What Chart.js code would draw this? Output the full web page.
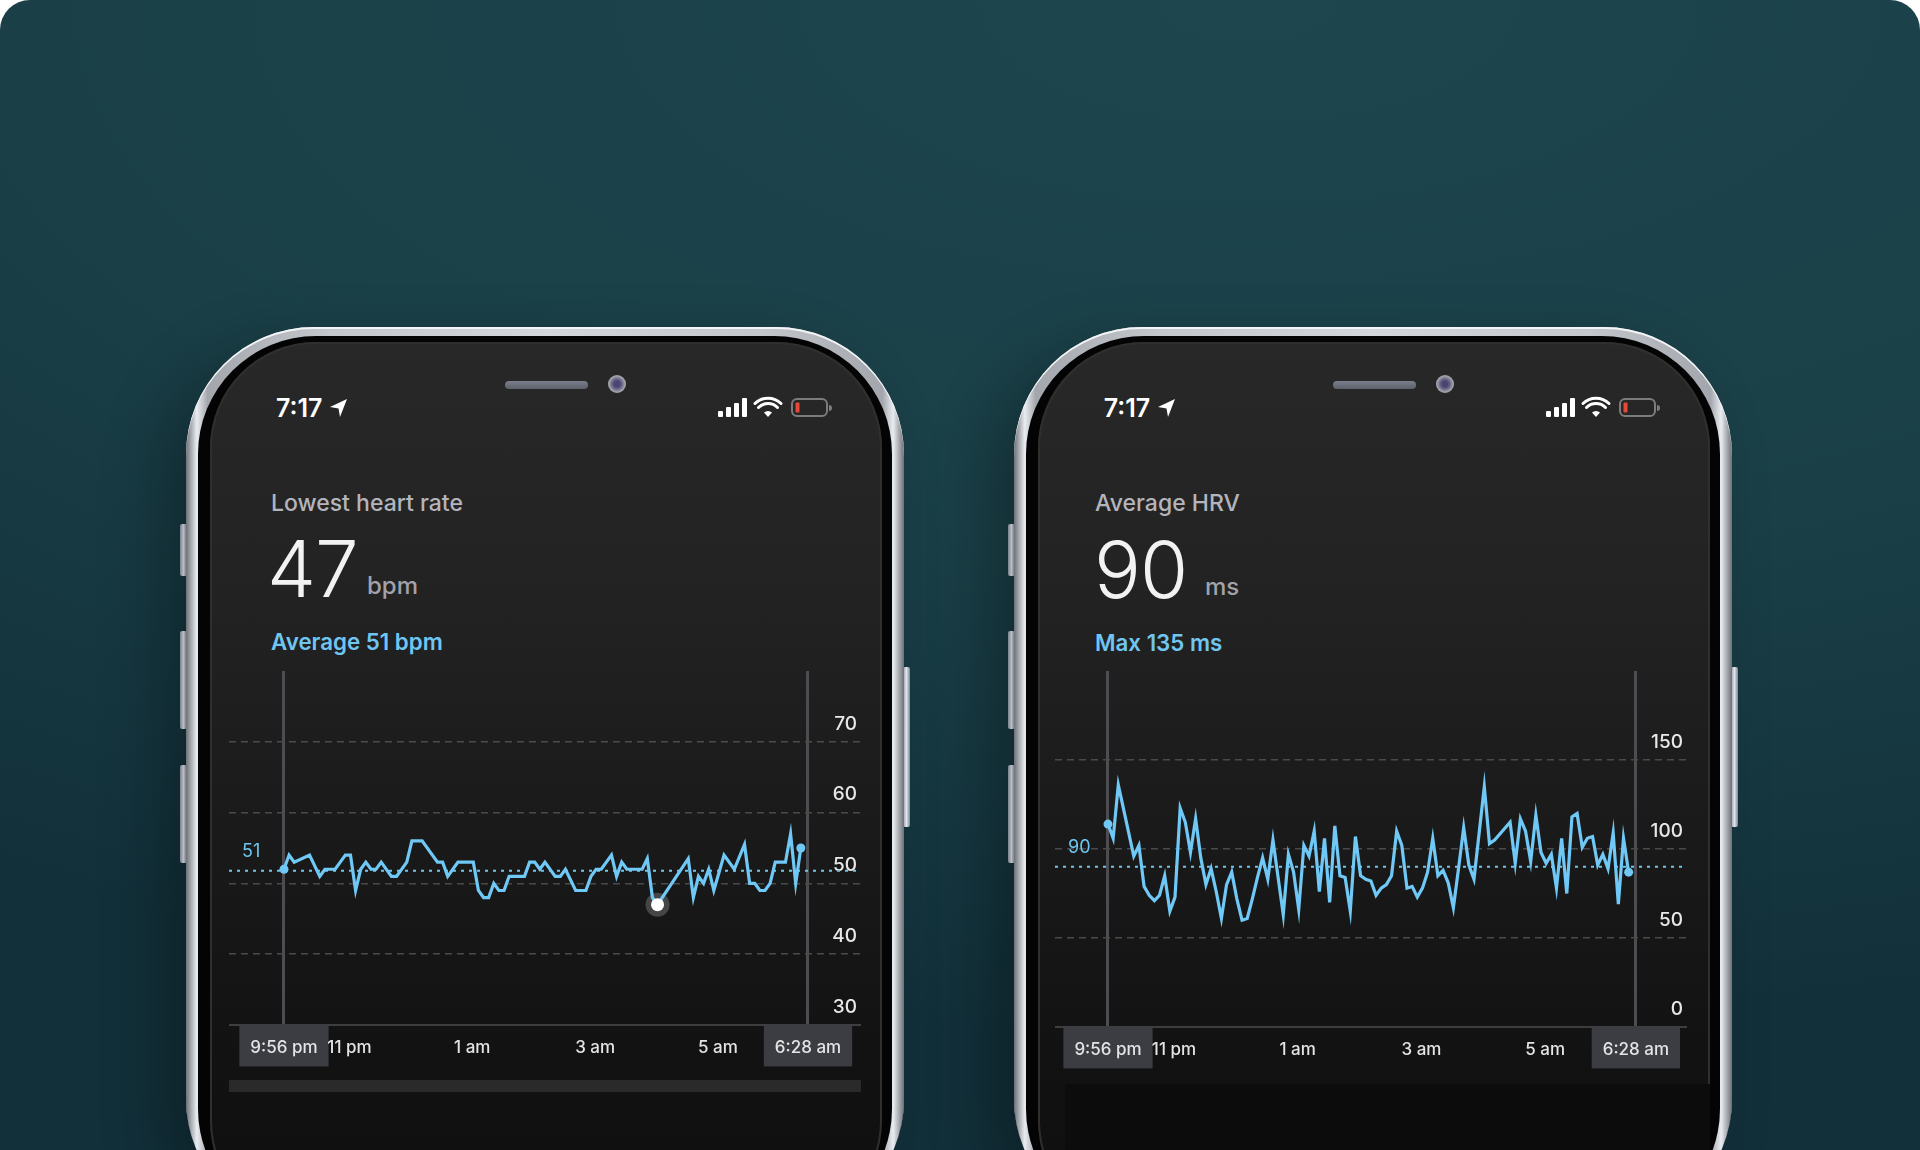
<!DOCTYPE html>
<html>
<head>
<meta charset="utf-8">
<script src="https://cdn.jsdelivr.net/npm/chart.js@4.4.1/dist/chart.umd.min.js"></script>
<style>
  body { margin: 0; background: #ffffff; font-family: Inter, "Noto Sans", sans-serif; }
  #bg {
    position: relative; width: 1920px; height: 1150px; overflow: hidden;
    border-radius: 30px 30px 0 0;
    background: radial-gradient(ellipse 120% 90% at 65% 0%, #1d464e 0%, #1a3f47 55%, #12303a 100%);
  }
  .phone {
    position: absolute; top: 327px; width: 718px; height: 900px; border-radius: 128px;
    background: linear-gradient(90deg, #6d7177 0%, #e9ecf0 1.5%, #a3a7ad 3%, #c4c8cd 20%, #d3d6da 50%, #c4c8cd 80%, #a3a7ad 97%, #e9ecf0 98.5%, #6d7177 100%);
    box-shadow: -25px 20px 60px rgba(0,0,0,0.28), inset 0 2px 0 #f2f4f6;
  }
  .bezel { position: absolute; left: 12px; right: 12px; top: 9px; bottom: 0; border-radius: 118px; background: #040404; }
  .screen {
    position: absolute; left: 24px; right: 22px; top: 15px; bottom: 0; border-radius: 106px;
    background: linear-gradient(180deg, #282828 0%, #222222 30%, #1a1a1a 55%, #121212 80%, #0f0f0f 100%);
    box-shadow: inset 0 0 0 2px #2f2f2f;
  }
  .btn { position: absolute; width: 7px; border-radius: 2px; background: linear-gradient(90deg, #9aa3b5, #eef1f6 50%, #7f8aa0); }
  .txt { position: absolute; white-space: nowrap; line-height: 1; }
  .speaker { position: absolute; width: 83px; height: 8px; border-radius: 4px; background: linear-gradient(180deg, #7a7f8b, #5b606b); }
  .cam { position: absolute; width: 18px; height: 18px; border-radius: 50%;
    background: radial-gradient(circle, #4a4470 0 22%, #6a6688 40%, #9c9ca6 60%, #c8c9d0 100%); }
  canvas { position: absolute; }
</style>
</head>
<body>
<div id="bg">
  <!-- phone 1 -->
  <div class="btn" style="left:180px;top:524px;height:52px"></div>
  <div class="btn" style="left:180px;top:631px;height:98px"></div>
  <div class="btn" style="left:180px;top:765px;height:98px"></div>
  <div class="btn" style="left:903px;top:667px;height:160px"></div>
  <div class="phone" style="left:186px"><div class="bezel"></div><div class="screen"></div></div>

  <!-- phone 2 -->
  <div class="btn" style="left:1008px;top:524px;height:52px"></div>
  <div class="btn" style="left:1008px;top:631px;height:98px"></div>
  <div class="btn" style="left:1008px;top:765px;height:98px"></div>
  <div class="btn" style="left:1731px;top:667px;height:160px"></div>
  <div class="phone" style="left:1014px"><div class="bezel"></div><div class="screen"></div></div>

  <!-- status bars -->
  <div id="status1"></div>
  <div id="status2"></div>

  <!-- screen 1 text -->
  <div class="txt" style="left:271px;top:492px;font-size:23px;font-weight:500;color:#b4b4bc">Lowest heart rate</div>
  <div class="txt" style="left:267px;top:530px;font-size:78px;font-weight:300;color:#f2f2f2;letter-spacing:-1px">47</div>
  <div class="txt" style="left:367px;top:574px;font-size:24px;font-weight:500;color:#a2a2ac">bpm</div>
  <div class="txt" style="left:271px;top:631px;font-size:22.3px;font-weight:600;color:#70c6f2">Average 51 bpm</div>
  <div style="position:absolute;left:229px;top:1080px;width:632px;height:12px;background:#2a2a2a"></div>

  <!-- screen 2 text -->
  <div class="txt" style="left:1095px;top:492px;font-size:23px;font-weight:500;color:#b4b4bc">Average HRV</div>
  <div class="txt" style="left:1094px;top:531px;font-size:78px;font-weight:300;color:#f2f2f2;letter-spacing:-1px">90</div>
  <div class="txt" style="left:1205px;top:575px;font-size:24px;font-weight:500;color:#a2a2ac">ms</div>
  <div class="txt" style="left:1095px;top:632px;font-size:22.3px;font-weight:600;color:#70c6f2">Max 135 ms</div>
  <div style="position:absolute;left:1065px;top:1084px;width:645px;height:70px;background:#0c0c0c"></div>

  <canvas id="hrChart" width="632" height="404" style="left:229px;top:671px"></canvas>
  <canvas id="hrvChart" width="632" height="404" style="left:1055px;top:671px"></canvas>
</div>

<script>
// shared time axis: minutes after 9:56 pm
const xTickMinutes = [0, 64, 184, 304, 424, 512];
const xTickLabels = ['9:56 pm', '11 pm', '1 am', '3 am', '5 am', '6:28 am'];

// lowest heart rate chart
const hrMinutes = [0, 5, 10, 25, 35, 40, 50, 55, 60, 65, 70, 75, 80, 85, 90, 95, 105, 110, 120, 125, 135, 150, 155, 160,
  170, 185, 190, 195, 200, 205, 210, 215, 220, 235, 240, 245, 250, 255, 265, 270, 275, 285, 295, 300, 305, 310, 315,
  320, 325, 330, 335, 350, 355, 360, 365, 395, 400, 405, 410, 415, 420, 430, 440, 450, 455, 460, 465, 470, 475, 480,
  490, 495, 500, 505];
const hrBpm = [52, 54, 53, 54, 51, 52, 52, 53, 54, 54, 49, 52, 53, 52, 52, 53, 51, 51, 53, 56, 56, 53, 53, 51,
  53, 53, 49, 48, 48, 50, 49, 49, 51, 51, 53, 53, 52, 53, 51, 51, 52, 49, 49, 51, 52, 52, 53,
  54, 51, 53, 52, 52, 53.5, 48, 47, 53.5, 48, 51, 50, 52, 49, 54, 52, 55.5, 50, 50, 49, 49, 50, 53,
  53, 57, 50, 55];
const hrAverage = 51.8;
const hrAverageLabel = '51';
const hrLowestMinute = 365;
const hrLowest = 47;
const hrTicks = [30, 40, 50, 60, 70];

// average HRV chart
const hrvMinutes = [0, 5, 10, 25, 30, 35, 40, 45, 50, 55, 60, 65, 70, 75, 80, 85, 90, 95, 100, 105, 110, 115, 120,
  125, 130, 135, 140, 145, 150, 155, 160, 170, 175, 180, 185, 190, 195, 200, 205, 210, 215, 220, 225, 230, 235,
  240, 245, 250, 255, 260, 265, 270, 275, 280, 285, 290, 295, 300, 305, 310, 315, 320, 325, 330, 335, 340, 345,
  350, 355, 365, 370, 375, 390, 395, 400, 405, 410, 415, 420, 425, 430, 435, 440, 445, 450, 455, 460, 465, 470,
  475, 480, 485, 490, 495, 500, 505];
const hrvMs = [114, 106, 136, 96, 102, 79, 74, 71, 74, 85, 65, 73, 123, 115, 98, 117, 95, 80, 89, 76, 61, 80, 87,
  72, 60, 61, 72, 84, 95, 83, 105, 63, 97, 87, 66, 102, 96, 110, 76, 106, 70, 113, 85, 84, 65,
  107, 85, 83, 82, 74, 78, 80, 85, 110, 102, 78, 79, 73, 78, 87, 106, 85, 88, 81, 67, 89, 112,
  91, 83, 135, 103, 105, 115, 92, 117, 110, 93, 119, 98, 92, 97, 78, 106, 75, 118, 120, 101, 106, 107,
  91, 97, 89, 109, 69, 106, 87];
const hrvAverage = 90;
const hrvAverageLabel = '90';
const hrvTicks = [0, 50, 100, 150];

const lineBlue = '#6fc8f5';
const gridGray = '#4a4a4c';

Chart.defaults.font.family = 'Inter';

const avgLabelPlugin = {
  id: 'avgLabel',
  afterDatasetsDraw(chart, args, opts) {
    const {ctx, chartArea, scales} = chart;
    const y = scales.y.getPixelForValue(opts.value);
    ctx.save();
    ctx.font = '400 18px Inter';
    ctx.fillStyle = '#6ec6f0';
    ctx.textBaseline = 'middle';
    ctx.fillText(opts.text, chartArea.left + 13, y - 19);
    ctx.restore();
  }
};

function makeChart(id, cfg) {
  const n = cfg.minutes.length;
  const datasets = [{
    data: cfg.minutes.map((m, i) => ({x: m, y: cfg.values[i]})),
    borderColor: lineBlue,
    backgroundColor: lineBlue,
    borderWidth: 3.2,
    borderJoinStyle: 'miter',
    tension: 0,
    pointRadius: c => (c.dataIndex === 0 || c.dataIndex === n - 1) ? 4.5 : 0,
    pointBorderWidth: 0
  }];
  if (cfg.low) {
    datasets.unshift({
      data: [{x: cfg.low.x, y: cfg.low.y}],
      showLine: false, pointRadius: 6.5, pointBorderWidth: 0, pointBackgroundColor: '#ffffff'
    });
    datasets.push({
      data: [{x: cfg.low.x, y: cfg.low.y}],
      showLine: false, pointRadius: 12, pointBorderWidth: 0, pointBackgroundColor: 'rgba(140,140,140,0.4)'
    });
  }
  datasets.push({
    data: [{x: cfg.xMin, y: cfg.avg}, {x: cfg.xMax, y: cfg.avg}],
    borderColor: '#6ec6f0', borderWidth: 2, borderDash: [3, 5], pointRadius: 0
  });

  const last = xTickMinutes.length - 1;
  return new Chart(document.getElementById(id), {
    type: 'line',
    data: {datasets},
    options: {
      responsive: false,
      animation: false,
      events: [],
      layout: {padding: 0, autoPadding: false},
      plugins: {
        legend: {display: false},
        tooltip: {enabled: false},
        avgLabel: {value: cfg.avg, text: cfg.avgText}
      },
      scales: {
        x: {
          type: 'linear',
          min: cfg.xMin,
          max: cfg.xMax,
          afterBuildTicks: s => { s.ticks = xTickMinutes.map(v => ({value: v})); },
          afterFit: s => { s.height = cfg.axisHeight; s.paddingLeft = 0; s.paddingRight = 0; },
          grid: {
            color: c => (c.index === 0 || c.index === last) ? '#4c4c51' : 'transparent',
            lineWidth: 3,
            drawTicks: false
          },
          border: {display: true, color: '#3e3e40', width: 2},
          ticks: {
            autoSkip: false,
            maxRotation: 0,
            padding: 13,
            color: '#e4e4e6',
            font: {size: 17, weight: 500},
            callback: v => xTickLabels[xTickMinutes.indexOf(v)],
            showLabelBackdrop: c => c.index === 0 || c.index === last,
            backdropColor: '#3b3d42',
            backdropPadding: {top: 13, bottom: 8, left: 11, right: 11}
          }
        },
        y: {
          type: 'linear',
          position: 'right',
          min: cfg.yMin,
          max: cfg.yMax,
          afterBuildTicks: s => { s.ticks = cfg.yTicks.map(v => ({value: v})); },
          afterFit: s => { s.width = 0; s.paddingTop = 0; s.paddingBottom = 0; },
          grid: {
            color: c => c.tick && c.tick.value === cfg.yMin ? 'transparent' : gridGray,
            lineWidth: 1.5,
            drawTicks: false
          },
          border: {display: false, dash: [7, 5]},
          ticks: {
            mirror: true,
            padding: -4,
            labelOffset: -18,
            color: '#e8e8ea',
            font: {size: 19, weight: 500}
          }
        }
      }
    },
    plugins: [avgLabelPlugin]
  });
}

makeChart('hrChart', {
  minutes: hrMinutes, values: hrBpm, avg: hrAverage, avgText: hrAverageLabel,
  low: {x: hrLowestMinute, y: hrLowest},
  yMin: 30, yMax: 80, yTicks: hrTicks,
  xMin: -53.7, xMax: 563.8, axisHeight: 50
});
makeChart('hrvChart', {
  minutes: hrvMinutes, values: hrvMs, avg: hrvAverage, avgText: hrvAverageLabel,
  yMin: 0, yMax: 200, yTicks: hrvTicks,
  xMin: -51.4, xMax: 561.6, axisHeight: 48
});

// status bar (decoration)
function statusBar(el, dx) {
  el.innerHTML =
    '<div class="txt" style="left:' + (276 + dx) + 'px;top:396px;font-size:25px;font-weight:600;color:#fff">7:17</div>' +
    '<svg style="position:absolute;left:' + (330 + dx) + 'px;top:399px" width="18" height="18" viewBox="0 0 18 18">' +
      '<path d="M17 0 L0 8 L8.5 9.5 L10 18 Z" fill="#fff"/></svg>' +
    '<div class="speaker" style="left:' + (505 + dx) + 'px;top:381px"></div>' +
    '<div class="cam" style="left:' + (608 + dx) + 'px;top:375px"></div>' +
    '<svg style="position:absolute;left:' + (716 + dx) + 'px;top:396px" width="120" height="24" viewBox="0 0 120 24">' +
      '<rect x="2" y="15" width="5" height="6" rx="1" fill="#fff"/>' +
      '<rect x="10" y="11" width="5" height="10" rx="1" fill="#fff"/>' +
      '<rect x="18" y="7" width="5" height="14" rx="1" fill="#fff"/>' +
      '<rect x="26" y="2" width="5" height="19" rx="1" fill="#fff"/>' +
      '<path d="M52 21 L48 16.5 A6 6 0 0 1 56 16.5 Z" fill="#fff"/>' +
      '<path d="M42.5 11.5 A13.5 13.5 0 0 1 61.5 11.5" stroke="#fff" stroke-width="3" fill="none" stroke-linecap="round"/>' +
      '<path d="M39 7.5 A18.5 18.5 0 0 1 65 7.5" stroke="#fff" stroke-width="3" fill="none" stroke-linecap="round"/>' +
      '<rect x="76" y="3" width="35" height="17" rx="5" stroke="#7c7c7e" stroke-width="2" fill="none"/>' +
      '<rect x="79.5" y="6.5" width="4" height="10" rx="1" fill="#e5493a"/>' +
      '<path d="M113 9 A3 3 0 0 1 113 15 Z" fill="#7c7c7e"/>' +
    '</svg>';
}
statusBar(document.getElementById('status1'), 0);
statusBar(document.getElementById('status2'), 676 * 1.2245);
</script>
</body>
</html>
